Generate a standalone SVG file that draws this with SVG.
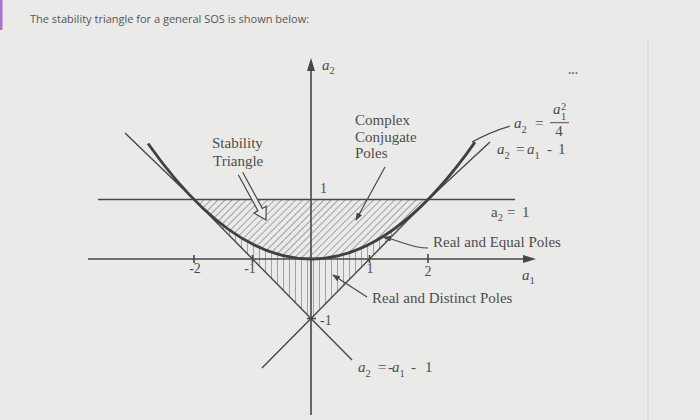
<svg xmlns="http://www.w3.org/2000/svg" width="700" height="420" viewBox="0 0 700 420">
<defs>
<style>
.bg{fill:#eaeae8}
.ax{stroke:#474747;stroke-width:1.6;fill:none}
.thin{stroke:#474747;stroke-width:1.4;fill:none}
.thick{stroke:#404040;stroke-width:2.8;fill:none}
.lead{stroke:#474747;stroke-width:1.2;fill:none}
.t{font-family:"Liberation Serif",serif;font-size:15px;fill:#4d4d4d}
.n{font-family:"Liberation Serif",serif;font-size:14px;fill:#4d4d4d}
.m{font-family:"Liberation Serif",serif;font-size:15px;font-style:italic;fill:#4d4d4d}
.s{font-size:10.5px;font-style:normal}
.ui{font-family:"Open Sans",sans-serif;font-size:11px;fill:#555}
</style>
<pattern id="diag" patternUnits="userSpaceOnUse" width="5" height="10" patternTransform="rotate(45)">
<line x1="0" y1="0" x2="0" y2="10" stroke="#4a4a4a" stroke-width="0.9"/>
</pattern>
<pattern id="vert" patternUnits="userSpaceOnUse" width="6" height="10" x="1">
<line x1="0" y1="0" x2="0" y2="10" stroke="#4a4a4a" stroke-width="0.9"/>
</pattern>
<marker id="ah" markerWidth="8" markerHeight="6" refX="7" refY="3" orient="auto" markerUnits="userSpaceOnUse">
<path d="M0,0 L8,3 L0,6 Z" fill="#474747"/>
</marker>
</defs>
<rect class="bg" x="0" y="0" width="700" height="420"/>
<rect x="0" y="0" width="2.5" height="30" fill="#b070d0"/>
<line x1="648" y1="40" x2="648" y2="420" stroke="#d2d2d0" stroke-width="1"/>
<text class="ui" x="30" y="23">The stability triangle for a general SOS is shown below:</text>
<text x="573" y="74" font-family="Liberation Sans,sans-serif" font-size="12" font-weight="bold" fill="#777" text-anchor="middle">...</text>

<g id="hatch">
<path d="M194,199.5 L428,199.5 Q311,318.5 194,199.5 Z" fill="url(#diag)"/>
<path d="M194,199.5 Q311,318.5 428,199.5 L311,318.5 Z" fill="url(#vert)"/>
</g>

<g id="axes">
<line class="ax" x1="88" y1="259" x2="525" y2="259"/>
<path d="M536,259 L523,255 L523,263 Z" fill="#474747"/>
<line class="ax" x1="311" y1="415" x2="311" y2="70"/>
<path d="M311,58 L307,71 L315,71 Z" fill="#474747"/>
<line class="ax" x1="194" y1="255" x2="194" y2="263"/>
<line class="ax" x1="252.5" y1="255" x2="252.5" y2="263"/>
<line class="ax" x1="369.5" y1="255" x2="369.5" y2="263"/>
<line class="ax" x1="428" y1="254" x2="428" y2="263"/>
<line class="ax" x1="307" y1="318.5" x2="316" y2="318.5"/>
<line class="thin" x1="98" y1="199.5" x2="515" y2="199.5"/>
</g>

<g id="triangle">
<polyline class="thin" points="262,368 311,318.5 428,199.5 490,142"/>
<polyline class="thin" points="352,360 311,318.5 194,199.5 125,133"/>
</g>

<g id="parabola">
<path class="thick" d="M148,143.5 Q311.5,375.2 475,142.1"/>
<path class="lead" d="M472,142 Q490,132 510,126"/>
</g>

<g id="connectors">
<polyline points="238.3,174.7 257.9,210.8 254,213 266,220 266.2,206.2 262.3,208.4 242.7,172.3" fill="#eaeae8" stroke="#474747" stroke-width="1.2" stroke-linejoin="miter"/>
<line class="lead" x1="385" y1="167" x2="356" y2="220" marker-end="url(#ah)"/>
<path class="lead" d="M428,248 C410,248 400,240 384,237.5" marker-end="url(#ah)"/>
<line class="lead" x1="367" y1="297" x2="333" y2="275" marker-end="url(#ah)"/>
</g>

<g id="labels">
<text class="t" x="212" y="148">Stability</text>
<text class="t" x="213" y="166">Triangle</text>
<text class="t" x="355" y="125">Complex</text>
<text class="t" x="355" y="142">Conjugate</text>
<text class="t" x="355" y="158">Poles</text>
<text class="t" x="433" y="247">Real and Equal Poles</text>
<text class="t" x="372" y="303">Real and Distinct Poles</text>

<text class="n" x="320" y="193">1</text>
<text class="n" x="195" y="273" text-anchor="middle">-2</text>
<text class="n" x="250" y="273" text-anchor="middle">-1</text>
<text class="n" x="370" y="273" text-anchor="middle">1</text>
<text class="n" x="428" y="276" text-anchor="middle">2</text>
<text class="n" x="320" y="325">-1</text>

<text class="m" x="322" y="70">a<tspan class="s" dy="4">2</tspan></text>
<text class="m" x="522" y="280">a<tspan class="s" dy="4">1</tspan></text>

<text class="m" x="514" y="128">a<tspan class="s" dy="5">2</tspan></text>
<text class="t" x="535" y="128">=</text>
<text class="m" x="553" y="114">a</text>
<text class="m" x="561" y="110"><tspan class="s">2</tspan></text>
<text class="m" x="561" y="120"><tspan class="s">1</tspan></text>
<line x1="550" y1="122.7" x2="569" y2="122.7" stroke="#4d4d4d" stroke-width="1"/>
<text class="t" x="559" y="135.5" text-anchor="middle">4</text>

<text class="m" x="497" y="154">a<tspan class="s" dy="5">2</tspan><tspan x="516" dy="-5" font-style="normal">=</tspan><tspan x="527">a</tspan><tspan class="s" dy="5">1</tspan><tspan x="547" dy="-5" font-style="normal">-</tspan><tspan x="558" font-style="normal">1</tspan></text>

<text class="t" x="491" y="217">a<tspan class="s" dy="4">2</tspan><tspan x="507" dy="-4">=</tspan><tspan x="522">1</tspan></text>

<text class="m" x="358" y="372">a<tspan class="s" dy="5">2</tspan><tspan x="378" dy="-5" font-style="normal">=</tspan><tspan x="388" font-style="normal">-</tspan><tspan x="392">a</tspan><tspan class="s" dy="5">1</tspan><tspan x="411" dy="-5" font-style="normal">-</tspan><tspan x="425" font-style="normal">1</tspan></text>
</g>
</svg>
